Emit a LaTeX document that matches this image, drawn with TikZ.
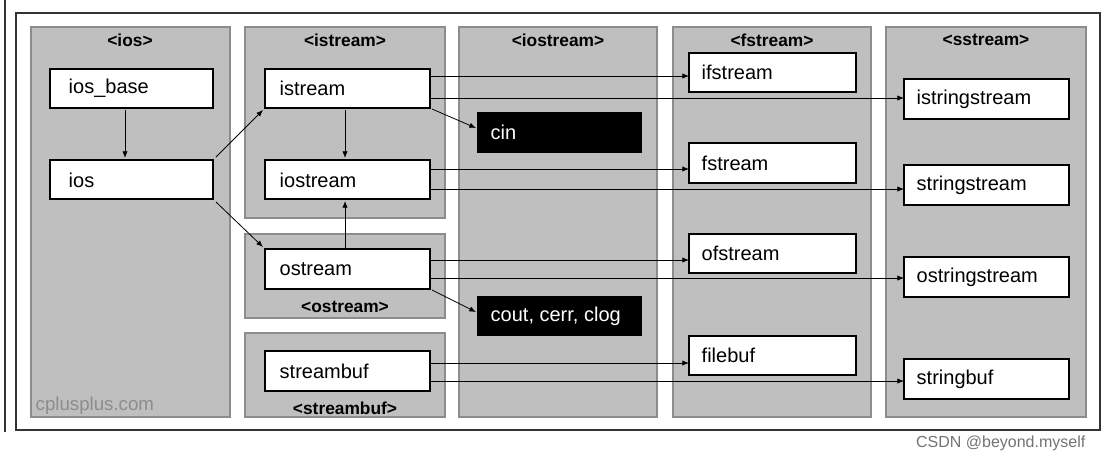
\documentclass[tikz,border=0pt]{standalone}
\usepackage{fontspec}
\setmainfont{Liberation Sans}
\usetikzlibrary{arrows.meta}
\begin{document}
\begin{tikzpicture}[x=0.75pt,y=-0.75pt,
 panel/.style={fill=black!25,draw=black!45,line width=1.5pt},
 box/.style={fill=white,draw=black,line width=0.8pt},
 blk/.style={fill=black,draw=black},
 hdr/.style={font=\fontsize{13}{13}\selectfont\bfseries},
 lbl/.style={anchor=west,font=\fontsize{15}{15}\selectfont},
 arr/.style={-{Latex[length=5pt,width=4pt]},line width=0.6pt}]
\useasboundingbox (0,0) rectangle (1105,462);
\draw[line width=1pt,black!80] (5,0) -- (5,432);
\draw[line width=1pt,black!80] (16,13) rectangle (1100,430);
% panels
\draw[panel] (31,27) rectangle (230,417);
\draw[panel] (245,27) rectangle (445,218);
\draw[panel] (245,234) rectangle (445,318);
\draw[panel] (245,333) rectangle (445,417);
\draw[panel] (459,27) rectangle (657,417);
\draw[panel] (673,27) rectangle (871,417);
\draw[panel] (886,27) rectangle (1086,417);
\node[hdr] (h1) at (130,40) {<ios>};
\node[hdr] (h2) at (345,40) {<istream>};
\node[hdr] (h3) at (345,307) {<ostream>};
\node[hdr] (h4) at (345,408) {<streambuf>};
\node[hdr] (h5) at (558,40) {<iostream>};
\node[hdr] (h6) at (772,40) {<fstream>};
\node[hdr] (h7) at (986,40) {<sstream>};
\node[anchor=west,text=black!45,font=\fontsize{14}{14}\selectfont] (wm) at (31,406) {cplusplus.com};
\node[anchor=east,text=black!55,font=\fontsize{12}{12}\selectfont] (csdn) at (1090,443) {CSDN @beyond.myself};
% boxes
\newcommand{\bx}[6]{\draw[#6] (#2,#3) rectangle (#4,#5); \coordinate (#1) at ({(#2+#4)/2},{(#3+#5)/2});}
\bx{iosbase}{50}{69}{213}{108}{box}
\bx{ios}{50}{160}{213}{199}{box}
\bx{ist}{265}{69}{430}{108}{box}
\bx{iost}{265}{160}{430}{199}{box}
\bx{ost}{265}{249}{430}{289}{box}
\bx{sbuf}{265}{351}{430}{391}{box}
\bx{cin}{477}{112}{641}{152}{blk}
\bx{cout}{477}{296}{641}{335}{blk}
\bx{ifs}{689}{53}{856}{92}{box}
\bx{fs}{689}{143}{856}{183}{box}
\bx{ofs}{689}{234}{856}{273}{box}
\bx{fbuf}{689}{336}{856}{375}{box}
\bx{iss}{904}{79}{1069}{119}{box}
\bx{ss}{904}{165}{1069}{205}{box}
\bx{oss}{904}{257}{1069}{297}{box}
\bx{strbuf}{904}{359}{1069}{399}{box}
\node[lbl] (t1) at (64,88) {ios\_base};
\node[lbl] (t2) at (64,180) {ios};
\node[lbl] (t3) at (275,88) {istream};
\node[lbl] (t4) at (275,180) {iostream};
\node[lbl] (t5) at (275,269) {ostream};
\node[lbl] (t6) at (275,371) {streambuf};
\node[lbl,text=white] (t7) at (486,132) {cin};
\node[lbl,text=white] (t8) at (486,316) {cout, cerr, clog};
\node[lbl] (t9) at (697,72) {ifstream};
\node[lbl] (t10) at (697,163) {fstream};
\node[lbl] (t11) at (697,253) {ofstream};
\node[lbl] (t12) at (697,355) {filebuf};
\node[lbl] (t13) at (912,99) {istringstream};
\node[lbl] (t14) at (912,185) {stringstream};
\node[lbl] (t15) at (912,277) {ostringstream};
\node[lbl] (t16) at (912,379) {stringbuf};
% arrows
\draw[arr] (125,110) -- (125,158);
\draw[arr] (216,157) -- (263,110);
\draw[arr] (216,202) -- (263,247);
\draw[arr] (345,110) -- (345,158);
\draw[arr] (345,249) -- (345,201);
\draw[arr] (430,76) -- (689,76);
\draw[arr] (430,98) -- (904,98);
\draw[arr] (432,109) -- (476,128);
\draw[arr] (430,169) -- (689,169);
\draw[arr] (430,189) -- (904,189);
\draw[arr] (430,260) -- (689,260);
\draw[arr] (430,278) -- (904,278);
\draw[arr] (432,290) -- (476,312);
\draw[arr] (430,363) -- (689,363);
\draw[arr] (430,381) -- (904,381);
\end{tikzpicture}
\end{document}
